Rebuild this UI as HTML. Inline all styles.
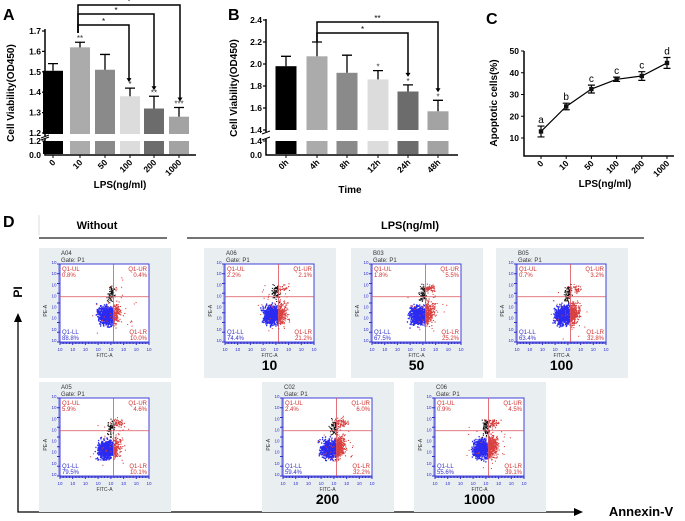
<!DOCTYPE html>
<html><head><meta charset="utf-8">
<style>
html,body{margin:0;padding:0;background:#fff;}
svg{display:block;font-family:"Liberation Sans",Arial,sans-serif;}
.b{font-weight:bold;}
</style></head>
<body>
<svg id="fig" width="685" height="521" viewBox="0 0 685 521" xmlns="http://www.w3.org/2000/svg">
<g id="A"></g>
<g id="B"></g>
<g id="C"></g>
<g id="D"></g>
</svg>
<script>
// Panel A data
const aCats = ["0","10","50","100","200","1000"];
const aVals = [1.505,1.62,1.51,1.38,1.32,1.28];
const aErrs = [0.035,0.025,0.075,0.04,0.06,0.045];
const aStars = ["","**","","*","**","***"];
const aTicks = [1.2,1.3,1.4,1.5,1.6,1.7];
// Panel B data
const bCats = ["0h","4h","8h","12h","24h","48h"];
const bVals = [1.98,2.07,1.92,1.86,1.75,1.57];
const bErrs = [0.09,0.13,0.16,0.08,0.06,0.10];
const bStars = ["","","","*","*","*"];
const bTicks = [1.4,1.6,1.8,2.0,2.2,2.4];
// Panel C data
const cCats = ["0","10","50","100","200","1000"];
const cVals = [13,24.5,32.5,37,38.5,44.5];
const cErrs = [2.5,1.5,1.8,1,2,2.5];
const cLetters = ["a","b","c","c","c","d"];
const cTicks = [10,20,30,40,50];
// Panel D data
const dIds = ["A04","A06","B03","B05","A05","C02","C06"];
const dUL = ["0.8","2.2","1.8","0.7","5.9","2.4","0.9"];
const dUR = ["0.4","2.1","5.5","3.2","4.6","6.0","4.5"];
const dLL = ["88.8","74.4","67.5","63.4","79.5","59.4","55.6"];
const dLR = ["10.0","21.2","25.2","32.8","10.1","32.2","39.1"];
const dDose = ["","10","50","100","","200","1000"];

const NS="http://www.w3.org/2000/svg";
function mk(parent,tag,attrs,text){const e=document.createElementNS(NS,tag);for(const k in attrs)e.setAttribute(k,attrs[k]);if(text!==undefined)e.textContent=text;parent.appendChild(e);return e;}
const barColors=["#000","#ababab","#8a8a8a","#dcdcdc","#6c6c6c","#a3a3a3"];

function barPanel(g,o){
  const {x0,xEnd,yTop,yBrk,lowTop,lowBot,centers,vals,errs,stars,ticks,cats,scale,bw,minV}=o;
  let e=mk(g,'path',{d:`M${x0} ${yTop}V${yBrk+2}M${x0} ${lowTop-2}V${lowBot}H${xEnd}`,stroke:'#000','stroke-width':1.5,fill:'none'});
  
  mk(g,'path',{d:`M${x0-4} ${yBrk+4}l8 -3M${x0-4} ${lowTop-1}l8 -3`,stroke:'#000','stroke-width':1});
  ticks.forEach(t=>{const y=scale(t);
    mk(g,'line',{x1:x0-3,x2:x0,y1:y,y2:y,stroke:'#000','stroke-width':1.2});
    const l=mk(g,'text',{x:x0-4,y:y+3,'font-size':8.5,'text-anchor':'end',class:'b'},t.toFixed(1));
    });
  mk(g,'line',{x1:x0-3,x2:x0,y1:lowTop,y2:lowTop,stroke:'#000'});
  mk(g,'text',{x:x0-4,y:lowTop+3,'font-size':8.5,'text-anchor':'end',class:'b'},minV.toFixed(1));
  mk(g,'text',{x:x0-4,y:lowBot+3,'font-size':8.5,'text-anchor':'end',class:'b'},"0.0");
  vals.forEach((v,i)=>{const cx=centers[i];const y=scale(v);
    const r=mk(g,'rect',{x:cx-bw/2,y:y,width:bw,height:yBrk-y,fill:barColors[i]});
    
    mk(g,'rect',{x:cx-bw/2,y:lowTop,width:bw,height:lowBot-lowTop-1,fill:barColors[i]});
    const ye=scale(v+errs[i]);
    const eb=mk(g,'path',{d:`M${cx} ${y}V${ye}M${cx-5} ${ye}H${cx+5}`,stroke:'#000','stroke-width':1.3,fill:'none'});
    
    if(stars[i])mk(g,'text',{x:cx,y:ye-1,'font-size':8,'text-anchor':'middle',fill:'#333'},stars[i]);
    mk(g,'line',{x1:cx,x2:cx,y1:lowBot,y2:lowBot+3,stroke:'#000'});
    const tl=mk(g,'text',{x:cx+3,y:lowBot+8,'font-size':8.5,'text-anchor':'end',class:'b',transform:`rotate(-45 ${cx+3} ${lowBot+8})`},cats[i]);
    
  });
}
// A
(function(){const g=document.getElementById('A');
  const sA=v=>133-(v-1.2)*204;
  const cen=[53,80,105,130,154,179];
  mk(g,'text',{x:3,y:20,'font-size':16,class:'b'},'A');
  barPanel(g,{x0:45,xEnd:196,yTop:29,yBrk:134,lowTop:141,lowBot:155,centers:cen,vals:aVals,errs:aErrs,stars:aStars,ticks:aTicks,cats:aCats,scale:sA,bw:20,minV:1.2});
  const yl=mk(g,'text',{x:14,y:93,'font-size':10,'text-anchor':'middle',class:'b',transform:'rotate(-90 14 93)'},'Cell Viability(OD450)');
  
  const xl=mk(g,'text',{x:120,y:188,'font-size':10,'text-anchor':'middle',class:'b'},'LPS(ng/ml)');
  
  [[5,5,180],[14,4,154],[25,3,129]].forEach(([y,i,x])=>{
    mk(g,'path',{d:`M78 33V${y}H${x}V${sA(aVals[i]+aErrs[i])-8}`,stroke:'#000','stroke-width':1.5,fill:'none'});
    mk(g,'path',{d:`M${x-2.5} ${sA(aVals[i]+aErrs[i])-10}l2.5 4l2.5 -4z`,fill:'#000'});
    mk(g,'text',{x:(78+x)/2,y:y-1,'font-size':8,'text-anchor':'middle'},'*');
  });
})();
// B
(function(){const g=document.getElementById('B');
  const sB=v=>130-(v-1.4)*110;
  const cen=[286,317,347,378,408,438];
  mk(g,'text',{x:228,y:20,'font-size':16,class:'b'},'B');
  barPanel(g,{x0:266,xEnd:458,yTop:19,yBrk:130,lowTop:141,lowBot:155,centers:cen,vals:bVals,errs:bErrs,stars:bStars,ticks:bTicks,cats:bCats,scale:sB,bw:21,minV:1.4});
  const yl=mk(g,'text',{x:237,y:88,'font-size':10,'text-anchor':'middle',class:'b',transform:'rotate(-90 237 88)'},'Cell Viability(OD450)');
  
  const xl=mk(g,'text',{x:350,y:193,'font-size':10,'text-anchor':'middle',class:'b'},'Time');
  
  [[22,5,438,'**'],[33,4,408,'*']].forEach(([y,i,x,s])=>{
    mk(g,'path',{d:`M317 ${sB(bVals[1]+bErrs[1])}V${y}H${x}V${sB(bVals[i]+bErrs[i])-10}`,stroke:'#000','stroke-width':1.5,fill:'none'});
    mk(g,'path',{d:`M${x-2.5} ${sB(bVals[i]+bErrs[i])-12}l2.5 4l2.5 -4z`,fill:'#000'});
    mk(g,'text',{x:(317+x)/2,y:y-1,'font-size':8,'text-anchor':'middle'},s);
  });
})();
// C
(function(){const g=document.getElementById('C');
  const sC=v=>159.75-v*2.175;
  const xs=i=>541+i*25.2;
  mk(g,'text',{x:486,y:24,'font-size':16,class:'b'},'C');
  mk(g,'path',{d:'M524 51V156H674',stroke:'#000','stroke-width':1.5,fill:'none'});
  cTicks.forEach(t=>{const y=sC(t);mk(g,'line',{x1:521,x2:524,y1:y,y2:y,stroke:'#000'});
    const l=mk(g,'text',{x:519,y:y+3,'font-size':8.5,'text-anchor':'end',class:'b'},t);
    });
  let d='';cVals.forEach((v,i)=>{d+=(i?'L':'M')+xs(i)+' '+sC(v);});
  const ln=mk(g,'path',{d:d,stroke:'#000','stroke-width':1.2,fill:'none'});
  
  cVals.forEach((v,i)=>{const x=xs(i),y=sC(v),y1=sC(v+cErrs[i]),y2=sC(v-cErrs[i]);
    mk(g,'path',{d:`M${x} ${y1}V${y2}M${x-3.5} ${y1}H${x+3.5}M${x-3.5} ${y2}H${x+3.5}`,stroke:'#000','stroke-width':1.2,fill:'none'});
    const p=mk(g,'rect',{x:x-2.2,y:y-2.2,width:4.4,height:4.4,fill:'#111'});
    
    mk(g,'text',{x:x,y:y1-3,'font-size':10,'text-anchor':'middle'},cLetters[i]);
    mk(g,'line',{x1:x,x2:x,y1:156,y2:159,stroke:'#000'});
    const tl=mk(g,'text',{x:x+3,y:164,'font-size':8.5,'text-anchor':'end',class:'b',transform:`rotate(-45 ${x+3} 164)`},cCats[i]);
    
  });
  const yl=mk(g,'text',{x:497,y:103,'font-size':10,'text-anchor':'middle',class:'b',transform:'rotate(-90 497 103)'},'Apoptotic cells(%)');
  
  const xl=mk(g,'text',{x:605,y:187,'font-size':10,'text-anchor':'middle',class:'b'},'LPS(ng/ml)');
  
})();
// D
(function(){const g=document.getElementById('D');
  mk(g,'text',{x:3,y:227,'font-size':16,class:'b'},'D');
  mk(g,'line',{x1:39,x2:39,y1:215,y2:235,stroke:'#ddd'});
  const w=mk(g,'text',{x:97,y:229,'font-size':11,'text-anchor':'middle',class:'b'},'Without');
  
  mk(g,'line',{x1:39,x2:167,y1:238,y2:238,stroke:'#222','stroke-width':1.3});
  const lh=mk(g,'text',{x:410,y:229,'font-size':11,'text-anchor':'middle',class:'b'},'LPS(ng/ml)');
  
  mk(g,'line',{x1:187,x2:644,y1:238,y2:238,stroke:'#222','stroke-width':1.3});
  mk(g,'path',{d:'M18 322V512H578',stroke:'#000','stroke-width':1.3,fill:'none'});
  mk(g,'path',{d:'M18 313l-4 9h8zM583 512l-9 -4v8z',fill:'#000'});
  const pi=mk(g,'text',{x:22,y:292,'font-size':12,'text-anchor':'middle',class:'b',transform:'rotate(-90 22 292)'},'PI');
  
  const an=mk(g,'text',{x:641,y:516,'font-size':13,'text-anchor':'middle',class:'b'},'Annexin-V');
  
  const boxes=[[39,248],[204,248],[351,248],[496,248],[39,382],[262,382],[414,382]];
  let seed=7;const rnd=()=>{seed=(seed*16807)%2147483647;return seed/2147483647;};
  const gs=()=>{return (rnd()+rnd()+rnd()-1.5)/0.5;};
  boxes.forEach(([bx,by],k)=>{
    const bg=mk(g,'g',{});
    
    mk(bg,'rect',{x:bx,y:by,width:132,height:130,fill:'#e9eef1'});
    const fx=bx+21,fy=by+16,fw=89,fh=78;
    mk(bg,'rect',{x:fx,y:fy,width:fw,height:fh,fill:'#fff',stroke:'#4040d8','stroke-width':1});
    const qx=fx+fw*0.6,qy=fy+fh*0.42;
    mk(bg,'text',{x:fx+1,y:by+7,'font-size':6,fill:'#333'},dIds[k]);
    mk(bg,'text',{x:fx+1,y:by+14,'font-size':6,fill:'#333'},'Gate: P1');
    const lr=parseFloat(dLR[k])/25, ur=parseFloat(dUR[k])/5;
    let blue='',red='',blk='';
    for(let i=0;i<700;i++){const x=qx-7+gs()*4.2, y=fy+fh*0.66+gs()*4.5; if(x<qx) blue+=`M${x.toFixed(1)} ${y.toFixed(1)}h1.3`; else red+=`M${x.toFixed(1)} ${y.toFixed(1)}h1.2`;}
    for(let i=0;i<220*lr;i++){const x=qx+Math.abs(gs())*4, y=fy+fh*0.63+gs()*5.5; red+=`M${x.toFixed(1)} ${y.toFixed(1)}h1.2`;}
    for(let i=0;i<40;i++){const x=qx+gs()*10, y=fy+fh*0.6+gs()*12; red+=`M${x.toFixed(1)} ${y.toFixed(1)}h1`;}
    for(let i=0;i<60*ur;i++){const x=qx+4+gs()*3.5, y=fy+fh*0.32+gs()*2; red+=`M${x.toFixed(1)} ${y.toFixed(1)}h1.2`;}
    for(let i=0;i<70;i++){const x=qx-3+gs()*1.8, y=fy+fh*0.38+gs()*4; blk+=`M${x.toFixed(1)} ${y.toFixed(1)}h1.2`;}
    mk(bg,'path',{d:blue,stroke:'#2a2af0','stroke-width':1.4});
    mk(bg,'path',{d:red,stroke:'#d94040','stroke-width':1.1});
    mk(bg,'path',{d:blk,stroke:'#111','stroke-width':1});
    mk(bg,'line',{x1:qx,x2:qx,y1:fy,y2:fy+fh,stroke:'#d9505a','stroke-width':0.8});
    mk(bg,'line',{x1:fx,x2:fx+fw,y1:qy,y2:qy,stroke:'#d9505a','stroke-width':0.8});
    mk(bg,'text',{x:fx+2,y:fy+7,'font-size':6,fill:'#d03030'},'Q1-UL');
    mk(bg,'text',{x:fx+2,y:fy+13,'font-size':6,fill:'#d03030'},dUL[k]+'%');
    mk(bg,'text',{x:fx+fw-2,y:fy+7,'font-size':6,fill:'#d03030','text-anchor':'end'},'Q1-UR');
    mk(bg,'text',{x:fx+fw-2,y:fy+13,'font-size':6,fill:'#d03030','text-anchor':'end'},dUR[k]+'%');
    mk(bg,'text',{x:fx+2,y:fy+fh-8,'font-size':6,fill:'#3030c8'},'Q1-LL');
    mk(bg,'text',{x:fx+2,y:fy+fh-2,'font-size':6,fill:'#3030c8'},dLL[k]+'%');
    mk(bg,'text',{x:fx+fw-2,y:fy+fh-8,'font-size':6,fill:'#d03030','text-anchor':'end'},'Q1-LR');
    mk(bg,'text',{x:fx+fw-2,y:fy+fh-2,'font-size':6,fill:'#d03030','text-anchor':'end'},dLR[k]+'%');
    let tk='';for(let i=0;i<=28;i++){const tx=fx+i*fw/28;tk+=`M${tx.toFixed(1)} ${fy+fh}v${i%4?2:3}`;}
    for(let i=0;i<=8;i++){const ty=fy+i*fh/8;tk+=`M${fx} ${ty.toFixed(1)}h-3`;}
    mk(bg,'path',{d:tk,stroke:'#3030d0','stroke-width':1});
    mk(bg,'rect',{x:fx,y:fy+fh,width:fw,height:2,fill:'#3030d0',opacity:0.6});
    mk(bg,'rect',{x:fx-2,y:fy,width:2,height:fh,fill:'#3030d0',opacity:0.35});
    for(let i=0;i<=7;i++){mk(bg,'text',{x:fx+i*fw/7,y:fy+fh+9,'font-size':4.5,fill:'#3030d0','text-anchor':'middle'},'10'); mk(bg,'text',{x:fx-6,y:fy+fh-i*fh/7,'font-size':4.5,fill:'#3030d0','text-anchor':'middle'},'10');}
    mk(bg,'text',{x:fx+fw/2,y:fy+fh+15,'font-size':5,fill:'#333','text-anchor':'middle'},'FITC-A');
    mk(bg,'text',{x:fx-13,y:fy+fh*0.6,'font-size':5,fill:'#333','text-anchor':'middle',transform:`rotate(-90 ${fx-13} ${fy+fh*0.6})`},'PE-A');
    if(dDose[k]){const t=mk(g,'text',{x:fx+fw/2,y:by+122,'font-size':14,'text-anchor':'middle',class:'b'},dDose[k]);
      }
  });
})();
</script>
</body></html>
